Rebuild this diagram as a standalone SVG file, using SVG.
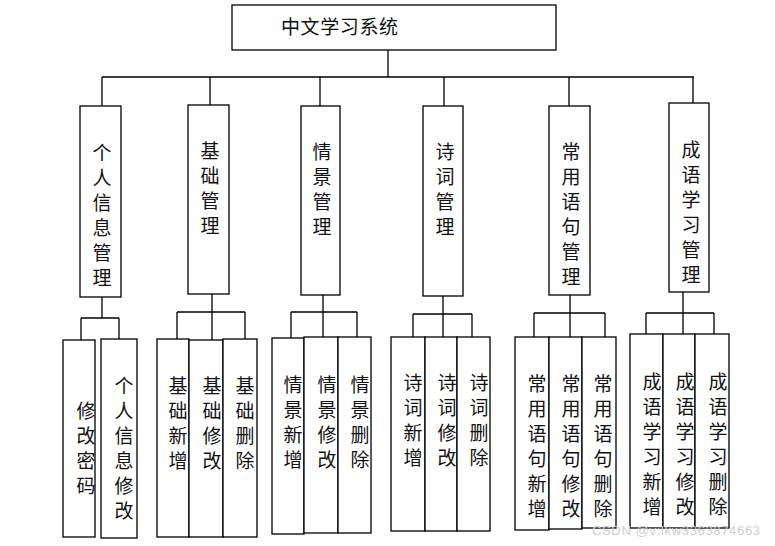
<svg xmlns="http://www.w3.org/2000/svg" width="775" height="546" viewBox="0 0 775 546">
<style>
.box{fill:#fff;stroke:#000;stroke-width:1.3}
.ln{fill:none;stroke:#000;stroke-width:1.3}
.t{font-family:"Noto Sans CJK SC","Noto Sans CJK JP",sans-serif;font-size:19px;fill:#111;text-anchor:middle;dominant-baseline:central}
.wm{font-family:"Liberation Sans",Arial,sans-serif;font-size:13px;fill:#cfcfcf}
</style>
<rect width="775" height="546" fill="#fff"/>
<g id="connectors">
<path class="ln" d="M388 50V77M102 77H694M102 77V106M210 77V105M320 77V106M444 77V106M569 77V106M693 77V103"/>
<path class="ln" d="M102 297V318M81 318H119M81 318V340M119 318V339"/>
<path class="ln" d="M212 294V340M177 312H245M177 312V339M245 312V339"/>
<path class="ln" d="M323 295V337M291 312H357M291 312V338M357 312V337"/>
<path class="ln" d="M443 296V337M413 314H472M413 314V337M472 314V337"/>
<path class="ln" d="M570 295V337M534 313H605M534 313V337M605 313V337"/>
<path class="ln" d="M683 292V334M646 313H714M646 313V334M714 313V334"/>
</g>
<g id="root"><rect class="box" x="232" y="5" width="324" height="45"/><text class="t" x="339.5" y="25" textLength="117">中文学习系统</text></g>
<g id="n1"><rect class="box" x="80" y="106" width="41" height="191"/><text class="t"><tspan x="102" y="151">个</tspan><tspan x="102" y="176">人</tspan><tspan x="102" y="201">信</tspan><tspan x="102" y="226">息</tspan><tspan x="102" y="251">管</tspan><tspan x="102" y="276">理</tspan></text></g>
<g id="n2"><rect class="box" x="188" y="105" width="41" height="189"/><text class="t"><tspan x="210" y="149">基</tspan><tspan x="210" y="174">础</tspan><tspan x="210" y="199">管</tspan><tspan x="210" y="224">理</tspan></text></g>
<g id="n3"><rect class="box" x="301" y="106" width="39" height="189"/><text class="t"><tspan x="322" y="150">情</tspan><tspan x="322" y="175">景</tspan><tspan x="322" y="200">管</tspan><tspan x="322" y="225">理</tspan></text></g>
<g id="n4"><rect class="box" x="423" y="106" width="40" height="190"/><text class="t"><tspan x="445" y="150">诗</tspan><tspan x="445" y="175">词</tspan><tspan x="445" y="200">管</tspan><tspan x="445" y="225">理</tspan></text></g>
<g id="n5"><rect class="box" x="549" y="106" width="41" height="189"/><text class="t"><tspan x="571" y="150">常</tspan><tspan x="571" y="175">用</tspan><tspan x="571" y="200">语</tspan><tspan x="571" y="225">句</tspan><tspan x="571" y="250">管</tspan><tspan x="571" y="275">理</tspan></text></g>
<g id="n6"><rect class="box" x="669" y="103" width="40" height="189"/><text class="t"><tspan x="691" y="148">成</tspan><tspan x="691" y="173">语</tspan><tspan x="691" y="198">学</tspan><tspan x="691" y="223">习</tspan><tspan x="691" y="248">管</tspan><tspan x="691" y="273">理</tspan></text></g>
<g id="n1a"><rect class="box" x="63" y="340" width="32" height="197"/><text class="t"><tspan x="86" y="409">修</tspan><tspan x="86" y="434">改</tspan><tspan x="86" y="459">密</tspan><tspan x="86" y="484">码</tspan></text></g>
<g id="n1b"><rect class="box" x="101" y="339" width="36" height="199"/><text class="t"><tspan x="124" y="384">个</tspan><tspan x="124" y="409">人</tspan><tspan x="124" y="434">信</tspan><tspan x="124" y="459">息</tspan><tspan x="124" y="484">修</tspan><tspan x="124" y="509">改</tspan></text></g>
<g id="n2a"><rect class="box" x="157" y="339" width="32" height="198"/><text class="t"><tspan x="178" y="384">基</tspan><tspan x="178" y="409">础</tspan><tspan x="178" y="434">新</tspan><tspan x="178" y="459">增</tspan></text></g>
<g id="n2b"><rect class="box" x="189" y="340" width="34" height="197"/><text class="t"><tspan x="212" y="384">基</tspan><tspan x="212" y="409">础</tspan><tspan x="212" y="434">修</tspan><tspan x="212" y="459">改</tspan></text></g>
<g id="n2c"><rect class="box" x="223" y="339" width="34" height="198"/><text class="t"><tspan x="245" y="384">基</tspan><tspan x="245" y="409">础</tspan><tspan x="245" y="434">删</tspan><tspan x="245" y="459">除</tspan></text></g>
<g id="n3a"><rect class="box" x="272" y="338" width="32" height="196"/><text class="t"><tspan x="293" y="383">情</tspan><tspan x="293" y="408">景</tspan><tspan x="293" y="433">新</tspan><tspan x="293" y="458">增</tspan></text></g>
<g id="n3b"><rect class="box" x="304" y="337" width="34" height="196"/><text class="t"><tspan x="327" y="383">情</tspan><tspan x="327" y="408">景</tspan><tspan x="327" y="433">修</tspan><tspan x="327" y="458">改</tspan></text></g>
<g id="n3c"><rect class="box" x="338" y="337" width="33" height="196"/><text class="t"><tspan x="360" y="383">情</tspan><tspan x="360" y="408">景</tspan><tspan x="360" y="433">删</tspan><tspan x="360" y="458">除</tspan></text></g>
<g id="n4a"><rect class="box" x="391" y="337" width="34" height="194"/><text class="t"><tspan x="413" y="381">诗</tspan><tspan x="413" y="406">词</tspan><tspan x="413" y="431">新</tspan><tspan x="413" y="456">增</tspan></text></g>
<g id="n4b"><rect class="box" x="425" y="337" width="32" height="194"/><text class="t"><tspan x="447" y="381">诗</tspan><tspan x="447" y="406">词</tspan><tspan x="447" y="431">修</tspan><tspan x="447" y="456">改</tspan></text></g>
<g id="n4c"><rect class="box" x="457" y="337" width="33" height="194"/><text class="t"><tspan x="479" y="381">诗</tspan><tspan x="479" y="406">词</tspan><tspan x="479" y="431">删</tspan><tspan x="479" y="456">除</tspan></text></g>
<g id="n5a"><rect class="box" x="515" y="337" width="34" height="193"/><text class="t"><tspan x="537" y="382">常</tspan><tspan x="537" y="407">用</tspan><tspan x="537" y="432">语</tspan><tspan x="537" y="457">句</tspan><tspan x="537" y="482">新</tspan><tspan x="537" y="507">增</tspan></text></g>
<g id="n5b"><rect class="box" x="549" y="337" width="33" height="192"/><text class="t"><tspan x="571" y="382">常</tspan><tspan x="571" y="407">用</tspan><tspan x="571" y="432">语</tspan><tspan x="571" y="457">句</tspan><tspan x="571" y="482">修</tspan><tspan x="571" y="507">改</tspan></text></g>
<g id="n5c"><rect class="box" x="582" y="337" width="34" height="191"/><text class="t"><tspan x="603" y="382">常</tspan><tspan x="603" y="407">用</tspan><tspan x="603" y="432">语</tspan><tspan x="603" y="457">句</tspan><tspan x="603" y="482">删</tspan><tspan x="603" y="507">除</tspan></text></g>
<g id="n6a"><rect class="box" x="630" y="334" width="33" height="194"/><text class="t"><tspan x="652" y="380">成</tspan><tspan x="652" y="405">语</tspan><tspan x="652" y="430">学</tspan><tspan x="652" y="455">习</tspan><tspan x="652" y="480">新</tspan><tspan x="652" y="505">增</tspan></text></g>
<g id="n6b"><rect class="box" x="663" y="334" width="32" height="194"/><text class="t"><tspan x="685" y="380">成</tspan><tspan x="685" y="405">语</tspan><tspan x="685" y="430">学</tspan><tspan x="685" y="455">习</tspan><tspan x="685" y="480">修</tspan><tspan x="685" y="505">改</tspan></text></g>
<g id="n6c"><rect class="box" x="695" y="334" width="34" height="194"/><text class="t"><tspan x="718" y="380">成</tspan><tspan x="718" y="405">语</tspan><tspan x="718" y="430">学</tspan><tspan x="718" y="455">习</tspan><tspan x="718" y="480">删</tspan><tspan x="718" y="505">除</tspan></text></g>
<text class="wm" x="592" y="535" textLength="168">CSDN @v:lkw3363874663</text>
</svg>
